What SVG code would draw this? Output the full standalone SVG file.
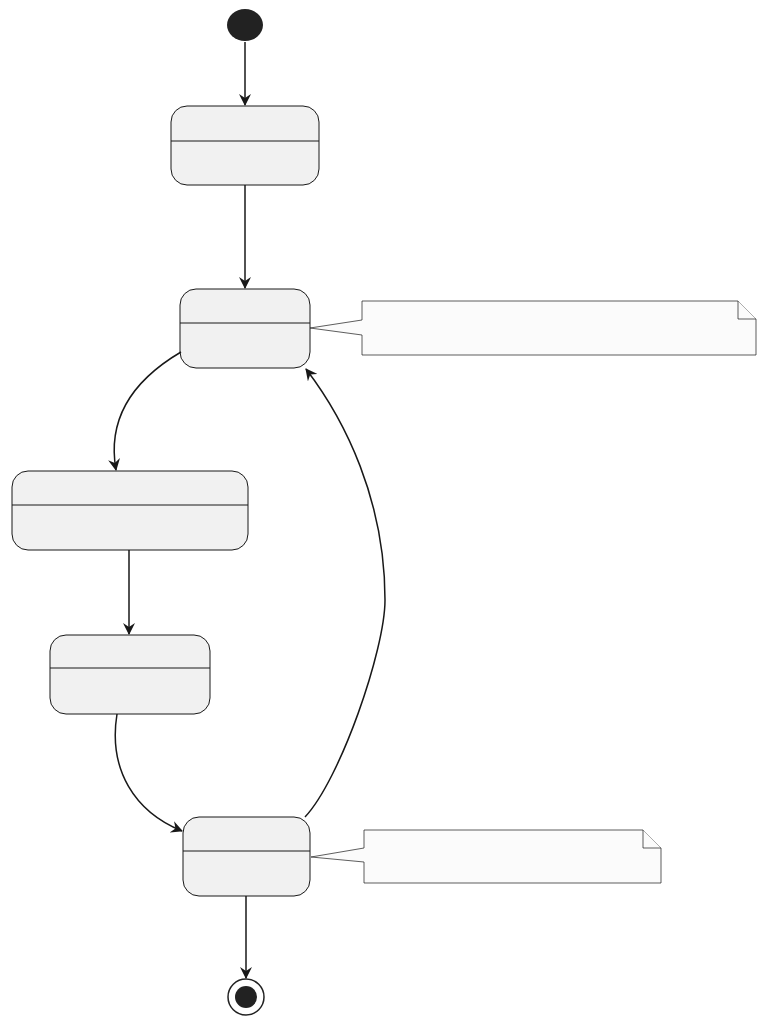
<svg xmlns="http://www.w3.org/2000/svg" width="768" height="1024" viewBox="0 0 768 1024">
<style>
.st{fill:#f1f1f1;stroke:#181818;stroke-width:1}
.dv{stroke:#181818;stroke-width:1}
.nt{fill:#fbfbfb;stroke:#181818;stroke-width:0.7}
.ed{fill:none;stroke:#181818;stroke-width:1.5}
</style>
<defs>
<marker id="ah" viewBox="0 0 12 12" refX="11" refY="6" markerWidth="12" markerHeight="12" markerUnits="userSpaceOnUse" orient="auto">
<path d="M0,0 L12,6 L0,12 L4,6 Z" fill="#181818"/>
</marker>
</defs>
<rect width="768" height="1024" fill="#fff"/>
<g id="start"><ellipse cx="245" cy="25" rx="18" ry="16" fill="#222"/></g>
<g id="s1"><rect class="st" x="171" y="106" width="148" height="79" rx="16"/><line class="dv" x1="171" y1="141" x2="319" y2="141"/></g>
<g id="s2"><rect class="st" x="180" y="289" width="130" height="79" rx="16"/><line class="dv" x1="180" y1="323" x2="310" y2="323"/></g>
<g id="s3"><rect class="st" x="12" y="471" width="236" height="79" rx="16"/><line class="dv" x1="12" y1="505" x2="248" y2="505"/></g>
<g id="s4"><rect class="st" x="50" y="635" width="160" height="79" rx="16"/><line class="dv" x1="50" y1="668" x2="210" y2="668"/></g>
<g id="s5"><rect class="st" x="183" y="817" width="127" height="79" rx="16"/><line class="dv" x1="183" y1="851" x2="310" y2="851"/></g>
<g id="end"><circle cx="246" cy="997" r="18" fill="#fff" stroke="#222" stroke-width="1.5"/><circle cx="246" cy="997" r="11" fill="#222"/></g>
<g id="note1"><path class="nt" d="M362,301 H738 L756,319 V355 H362 V335 L310,328 L362,320 Z"/><path class="nt" d="M738,301 V319 H756" fill="none"/></g>
<g id="note2"><path class="nt" d="M364,830 H643 L661,848 V883 H364 V862 L311,857 L364,848 Z"/><path class="nt" d="M643,830 V848 H661" fill="none"/></g>
<g id="connectors">
<path class="ed" d="M245,42 V105" marker-end="url(#ah)"/>
<path class="ed" d="M245,185 V288" marker-end="url(#ah)"/>
<path class="ed" d="M181,352 C125,385 108,425 116,470" marker-end="url(#ah)"/>
<path class="ed" d="M129,550 V634" stroke-width="1" marker-end="url(#ah)"/>
<path class="ed" d="M117,714 C108,770 135,812 182,831" marker-end="url(#ah)"/>
<path class="ed" d="M305,817 C340,780 385,650 385,600 C385,500 345,420 306,369" marker-end="url(#ah)"/>
<path class="ed" d="M246,896 V978" marker-end="url(#ah)"/>
</g>
</svg>
